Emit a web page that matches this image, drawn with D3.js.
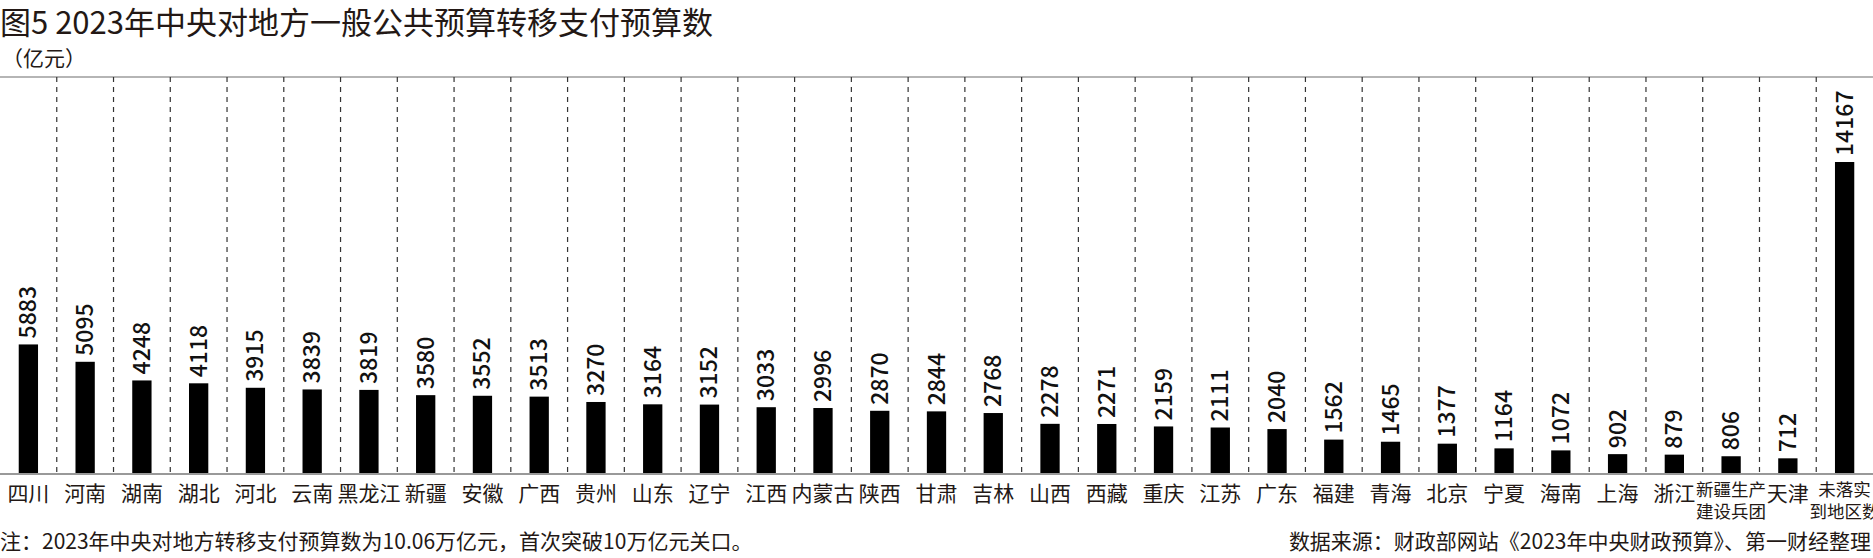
<!DOCTYPE html><html><head><meta charset="utf-8"><script src="https://cdn.jsdelivr.net/npm/d3@7"></script>
<style>body{margin:0;background:#fff}text{font-family:"Noto Sans CJK SC","Noto Sans",sans-serif}</style></head><body><svg id="c" width="1873" height="558"></svg><script>
const categories=["四川","河南","湖南","湖北","河北","云南","黑龙江","新疆","安徽","广西","贵州","山东","辽宁","江西","内蒙古","陕西","甘肃","吉林","山西","西藏","重庆","江苏","广东","福建","青海","北京","宁夏","海南","上海","浙江","新疆生产\n建设兵团","天津","未落实\n到地区数"];
const values=[5883,5095,4248,4118,3915,3839,3819,3580,3552,3513,3270,3164,3152,3033,2996,2870,2844,2768,2278,2271,2159,2111,2040,1562,1465,1377,1164,1072,902,879,806,712,14167];
const title="图5 2023年中央对地方一般公共预算转移支付预算数";
const unit="（亿元）";
const note="注：2023年中央对地方转移支付预算数为10.06万亿元，首次突破10万亿元关口。";
const source="数据来源：财政部网站《2023年中央财政预算》、第一财经整理";
const svg=d3.select("#c");
const W=1873,topY=77,base=474;
const x=d3.scaleBand().domain(categories).range([0,W]).paddingInner(0.66).paddingOuter(0.33);
const xs=d3.scaleBand().domain(categories).range([0,W]);
const y=d3.scaleLinear().domain([0,14167]).range([base,162]);
svg.append("text").attr("x",0).attr("y",34).attr("font-size",31).attr("fill","#231815").text(title);
svg.append("text").attr("x",2).attr("y",66).attr("font-size",21).attr("fill","#231815").text(unit);
svg.append("line").attr("x1",0).attr("x2",W).attr("y1",topY).attr("y2",topY).attr("stroke","#b5b5b5").attr("stroke-width",2);
categories.slice(1).forEach(c=>{svg.append("line").attr("x1",xs(c)).attr("x2",xs(c)).attr("y1",topY).attr("y2",base).attr("stroke","#333").attr("stroke-width",1.2).attr("stroke-dasharray","5,5");});
svg.selectAll("rect.b").data(values).join("rect").attr("x",(d,i)=>x(categories[i])).attr("width",x.bandwidth()).attr("y",d=>y(d)).attr("height",d=>base-y(d)).attr("fill","#000");
svg.append("line").attr("x1",0).attr("x2",W).attr("y1",base).attr("y2",base).attr("stroke","#999").attr("stroke-width",2);
svg.selectAll("text.v").data(values).join("text").attr("transform",(d,i)=>`translate(${xs(categories[i])+xs.bandwidth()/2+8},${y(d)-6}) rotate(-90)`).attr("font-family","Roboto").attr("font-size",23).attr("font-weight",500).attr("fill","#111").text(d=>d);
categories.forEach(c=>{const lines=c.split("\n");const cx=xs(c)+xs.bandwidth()/2;
 if(lines.length==1){svg.append("text").attr("x",cx).attr("y",501).attr("text-anchor","middle").attr("font-size",21).attr("fill","#231815").text(c);}
 else{lines.forEach((l,j)=>svg.append("text").attr("x",cx).attr("y",496+j*22).attr("text-anchor","middle").attr("font-size",17.5).attr("fill","#231815").text(l));}});
svg.append("text").attr("x",0).attr("y",549).attr("font-size",21).attr("fill","#231815").text(note);
svg.append("text").attr("x",W-2).attr("y",549).attr("text-anchor","end").attr("font-size",21).attr("fill","#231815").text(source);
</script></body></html>
